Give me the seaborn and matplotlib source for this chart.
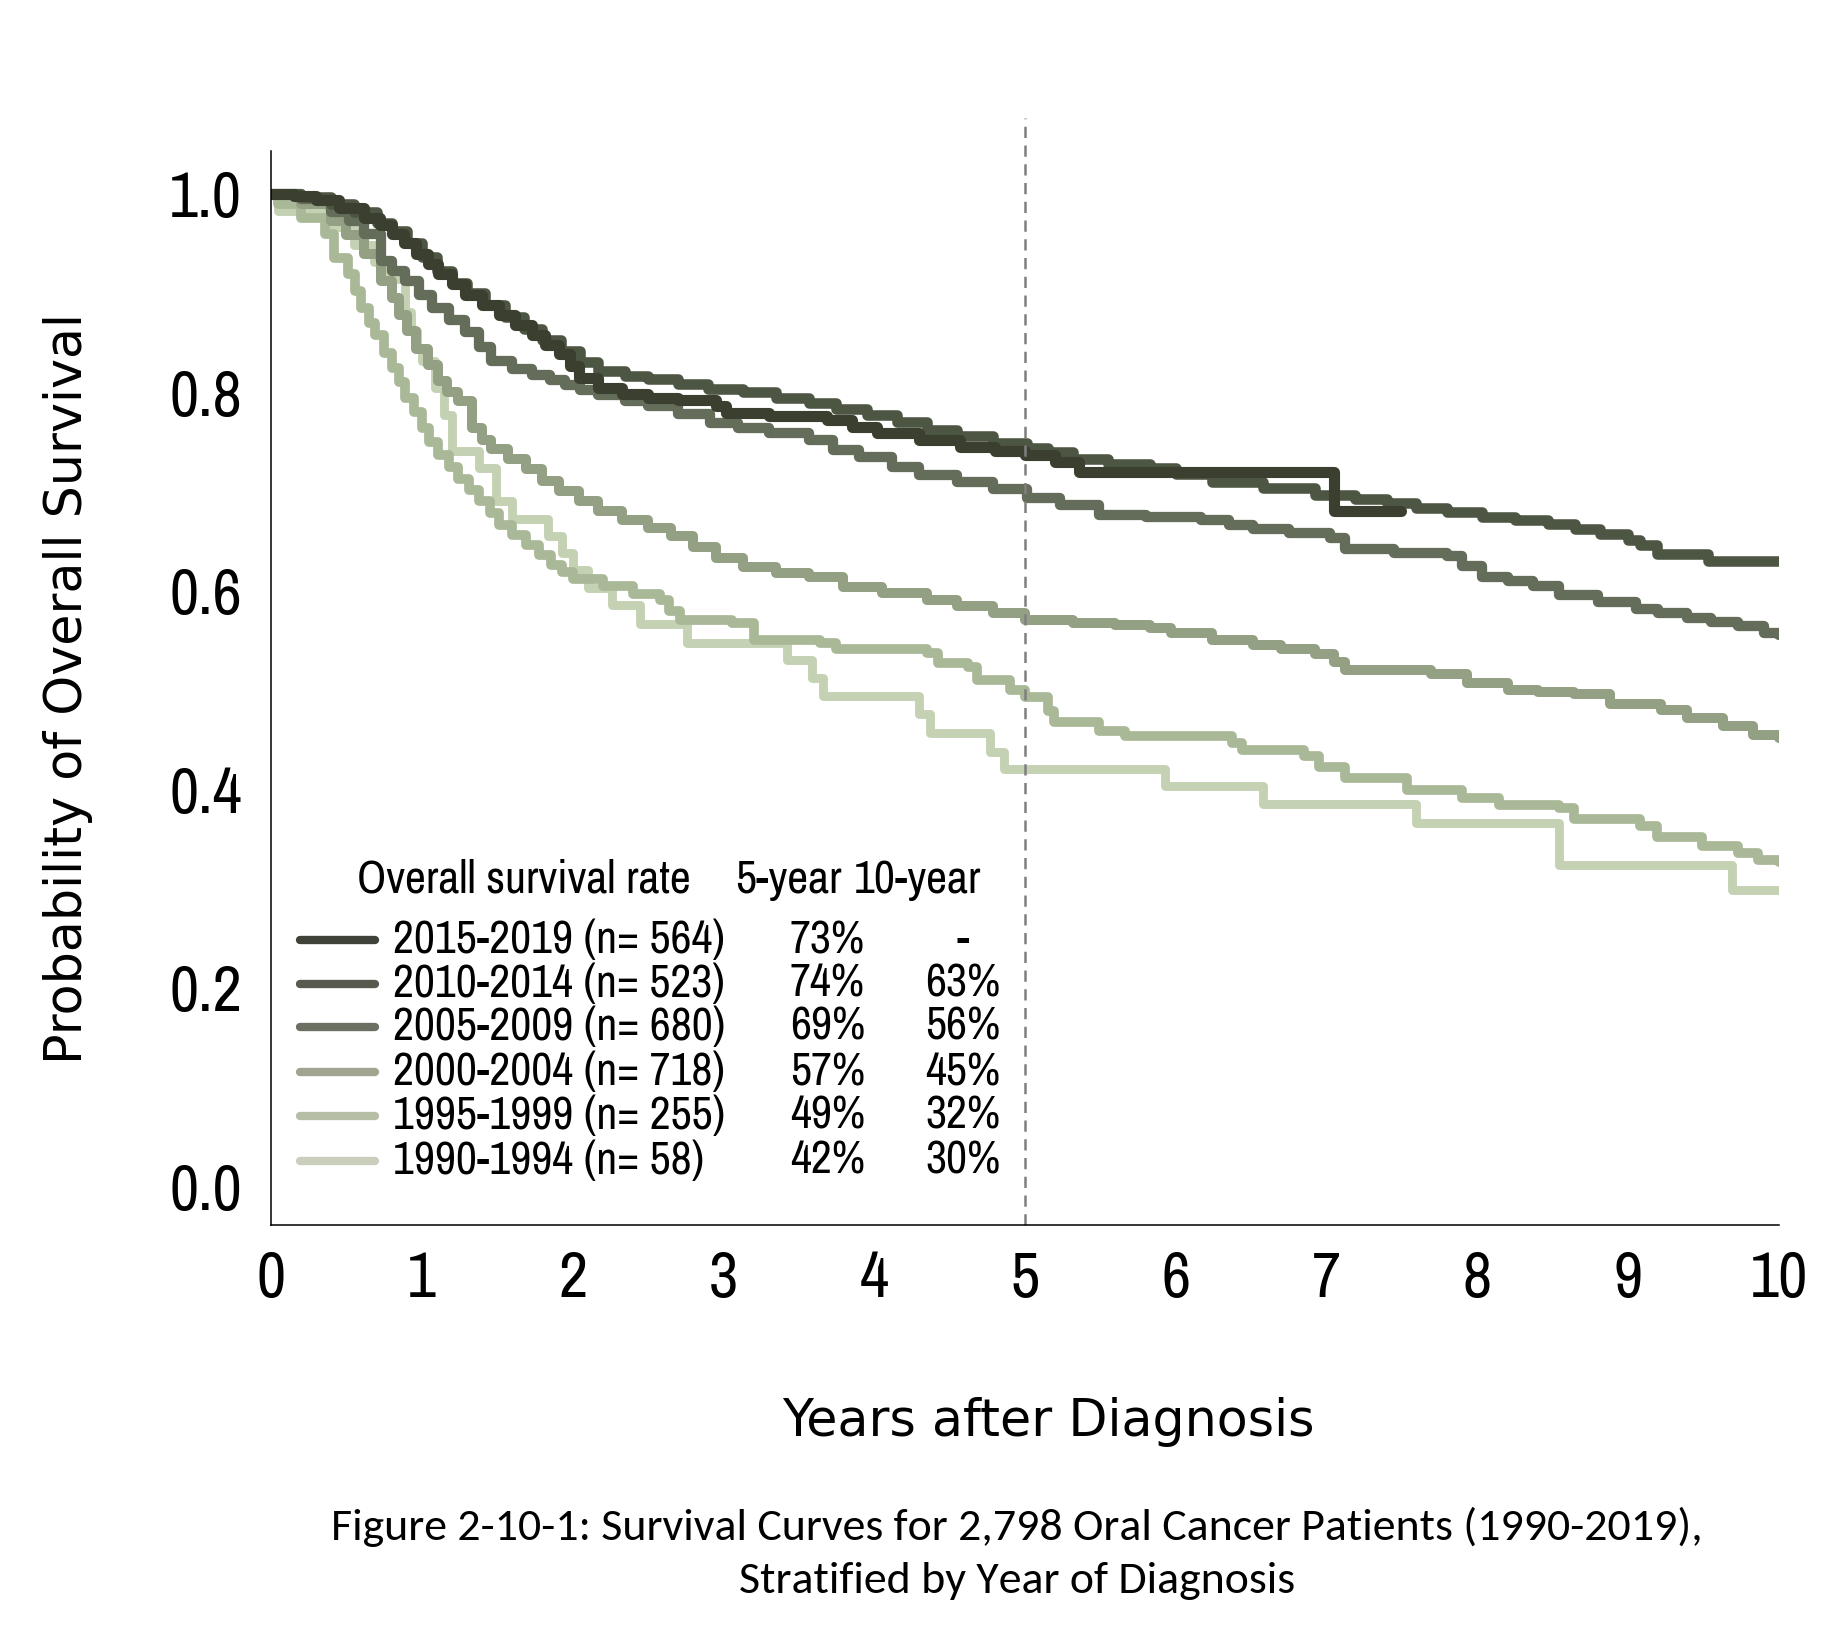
import numpy as np
import pandas as pd
import matplotlib
matplotlib.use("Agg")
import matplotlib.pyplot as plt
import seaborn as sns

# Survival step curves (time in years, survival from that time on)
t_2015 = [0, 0.15, 0.3, 0.45, 0.62, 0.72, 0.8, 0.88, 0.96, 1.04, 1.11, 1.2, 1.29, 1.4, 1.51, 1.62,
          1.73, 1.82, 1.91, 1.98, 2.04, 2.17, 2.33, 2.5, 2.7, 2.95, 3.02, 3.3, 3.69, 3.85, 4.02,
          4.3, 4.57, 4.8, 5.0, 5.2, 5.36, 7.05, 7.49]
s_2015 = [1.0, 0.998, 0.994, 0.986, 0.976, 0.968, 0.959, 0.95, 0.939, 0.929, 0.919, 0.909, 0.898,
          0.888, 0.878, 0.868, 0.858, 0.848, 0.838, 0.826, 0.814, 0.804, 0.798, 0.794, 0.792,
          0.786, 0.779, 0.776, 0.772, 0.765, 0.759, 0.752, 0.745, 0.741, 0.737, 0.73, 0.72,
          0.68, 0.68]

t_2010 = [0, 0.2, 0.4, 0.55, 0.7, 0.8, 0.9, 1.0, 1.1, 1.2, 1.3, 1.42, 1.55, 1.68, 1.8, 1.92, 2.05,
          2.17, 2.35, 2.5, 2.7, 2.9, 3.13, 3.35, 3.57, 3.75, 3.95, 4.15, 4.35, 4.55, 4.79, 5.01,
          5.15, 5.32, 5.55, 5.83, 6.0, 6.24, 6.58, 6.92, 7.19, 7.4, 7.59, 7.8, 8.03, 8.25, 8.47,
          8.65, 8.81, 9.0, 9.08, 9.19, 9.53, 10.0]
s_2010 = [1.0, 0.997, 0.99, 0.982, 0.97, 0.962, 0.95, 0.936, 0.922, 0.91, 0.9, 0.888, 0.876, 0.864,
          0.853, 0.842, 0.83, 0.821, 0.816, 0.813, 0.808, 0.803, 0.8, 0.794, 0.789, 0.783, 0.777,
          0.77, 0.762, 0.756, 0.749, 0.744, 0.74, 0.733, 0.728, 0.724, 0.718, 0.71, 0.703, 0.696,
          0.692, 0.688, 0.683, 0.679, 0.674, 0.671, 0.667, 0.662, 0.657, 0.651, 0.646, 0.637,
          0.63, 0.63]

t_2005 = [0, 0.2, 0.4, 0.52, 0.62, 0.73, 0.8, 0.89, 0.98, 1.07, 1.18, 1.29, 1.38, 1.46, 1.6, 1.73,
          1.85, 1.95, 2.05, 2.17, 2.35, 2.5, 2.7, 2.91, 3.1, 3.3, 3.57, 3.73, 3.9, 4.12, 4.3, 4.55,
          4.79, 5.01, 5.23, 5.49, 5.8, 6.17, 6.35, 6.51, 6.75, 7.02, 7.12, 7.45, 7.8, 7.9, 8.03,
          8.2, 8.37, 8.54, 8.8, 9.05, 9.2, 9.39, 9.55, 9.73, 9.9, 10.0]
s_2005 = [1.0, 0.995, 0.982, 0.972, 0.959, 0.932, 0.922, 0.912, 0.898, 0.885, 0.873, 0.861, 0.846,
          0.831, 0.823, 0.817, 0.812, 0.807, 0.802, 0.797, 0.791, 0.786, 0.778, 0.769, 0.764,
          0.759, 0.752, 0.742, 0.735, 0.725, 0.717, 0.71, 0.702, 0.693, 0.686, 0.676, 0.674,
          0.671, 0.666, 0.662, 0.658, 0.653, 0.642, 0.638, 0.635, 0.625, 0.614, 0.61, 0.605,
          0.596, 0.589, 0.582, 0.578, 0.573, 0.569, 0.564, 0.557, 0.555]

t_2000 = [0, 0.2, 0.4, 0.5, 0.62, 0.73, 0.8, 0.85, 0.9, 0.96, 1.04, 1.11, 1.17, 1.24, 1.33, 1.4,
          1.46, 1.57, 1.69, 1.8, 1.91, 2.04, 2.17, 2.33, 2.5, 2.65, 2.8, 2.95, 3.13, 3.35, 3.57,
          3.79, 4.05, 4.35, 4.55, 4.79, 5.0, 5.32, 5.6, 5.83, 5.97, 6.24, 6.51, 6.7, 6.92, 7.05,
          7.12, 7.69, 7.93, 8.2, 8.4, 8.64, 8.88, 9.22, 9.39, 9.63, 9.83, 10.0]
s_2000 = [1.0, 0.99, 0.972, 0.958, 0.939, 0.912, 0.895, 0.878, 0.862, 0.844, 0.827, 0.811, 0.8,
          0.791, 0.764, 0.752, 0.743, 0.733, 0.723, 0.711, 0.7, 0.69, 0.68, 0.671, 0.663, 0.655,
          0.644, 0.633, 0.624, 0.618, 0.614, 0.604, 0.598, 0.591, 0.585, 0.578, 0.571, 0.568,
          0.565, 0.562, 0.557, 0.55, 0.545, 0.541, 0.536, 0.528, 0.52, 0.516, 0.507, 0.5, 0.498,
          0.496, 0.486, 0.48, 0.472, 0.464, 0.455, 0.452]

t_1995 = [0, 0.05, 0.2, 0.36, 0.42, 0.51, 0.56, 0.6, 0.65, 0.69, 0.75, 0.8, 0.85, 0.89, 0.95, 1.0,
          1.05, 1.11, 1.18, 1.24, 1.31, 1.38, 1.45, 1.51, 1.6, 1.69, 1.78, 1.86, 1.93, 2.0, 2.2,
          2.4, 2.58, 2.64, 2.71, 3.06, 3.2, 3.64, 3.75, 4.35, 4.42, 4.62, 4.68, 4.9, 5.0, 5.15,
          5.19, 5.49, 5.66, 6.37, 6.44, 6.85, 6.95, 7.12, 7.53, 7.9, 8.14, 8.54, 8.64, 9.08,
          9.19, 9.49, 9.73, 9.86, 10.0]
s_1995 = [1.0, 0.99, 0.976, 0.959, 0.935, 0.919, 0.902, 0.885, 0.87, 0.858, 0.84, 0.824, 0.81,
          0.794, 0.78, 0.764, 0.75, 0.737, 0.725, 0.713, 0.701, 0.69, 0.678, 0.666, 0.656, 0.646,
          0.636, 0.626, 0.619, 0.612, 0.605, 0.597, 0.591, 0.58, 0.571, 0.567, 0.55, 0.547,
          0.541, 0.537, 0.527, 0.523, 0.51, 0.5, 0.493, 0.479, 0.468, 0.459, 0.454, 0.447, 0.44,
          0.434, 0.422, 0.411, 0.399, 0.391, 0.384, 0.381, 0.37, 0.363, 0.352, 0.343, 0.336,
          0.329, 0.327]

t_1990 = [0, 0.05, 0.4, 0.55, 0.68, 0.78, 0.89, 0.93, 0.97, 1.0, 1.09, 1.15, 1.2, 1.38, 1.49, 1.6,
          1.84, 1.93, 2.0, 2.1, 2.26, 2.45, 2.76, 3.42, 3.59, 3.66, 4.3, 4.37, 4.77, 4.86, 5.93,
          6.58, 7.59, 8.54, 9.69, 10.0]
s_1990 = [1.0, 0.983, 0.966, 0.948, 0.931, 0.914, 0.881, 0.862, 0.845, 0.831, 0.804, 0.777, 0.741,
          0.724, 0.69, 0.672, 0.655, 0.638, 0.621, 0.603, 0.586, 0.566, 0.547, 0.53, 0.512,
          0.494, 0.476, 0.457, 0.438, 0.42, 0.403, 0.385, 0.366, 0.324, 0.299, 0.299]

groups = ["2015-2019 (n= 564)", "2010-2014 (n= 523)", "2005-2009 (n= 680)",
          "2000-2004 (n= 718)", "1995-1999 (n= 255)", "1990-1994 (n= 58)"]
times = [t_2015, t_2010, t_2005, t_2000, t_1995, t_1990]
surv = [s_2015, s_2010, s_2005, s_2000, s_1995, s_1990]
rate5 = ["73%", "74%", "69%", "57%", "49%", "42%"]
rate10 = ["-", "63%", "56%", "45%", "32%", "30%"]

line_colors = ["#3a3f30", "#4d5543", "#646d5a", "#93a084", "#a9b897", "#c4d1b3"]
swatch_colors = ["#3f4239", "#565a4f", "#6c7063", "#a0a592", "#b6bea5", "#c9cfbc"]
line_widths = [8, 7.6, 7.4, 7.2, 7.0, 6.4]

sns.set_style("white")
narrow = ['Archivo Narrow', 'DejaVu Sans']
plt.rcParams['font.family'] = narrow
plt.rcParams['text.color'] = 'black'
plt.rcParams['xtick.color'] = 'black'
plt.rcParams['ytick.color'] = 'black'

fig = plt.figure(figsize=(18.47, 16.36), dpi=100)
ax = fig.add_axes([0.1467, 0.2512, 0.8165, 0.6565])

# lightest first so the dark curves sit on top
for i in reversed(range(len(groups))):
    df = pd.DataFrame({"t": times[i], "s": surv[i]})
    sns.lineplot(data=df, x="t", y="s", ax=ax, color=line_colors[i], lw=line_widths[i],
                 drawstyle="steps-post", estimator=None, legend=False)

ax.set_xlim(0, 10)
ax.set_ylim(-0.039, 1.043)
ax.set_xticks(range(11))
ax.set_yticks([0, 0.2, 0.4, 0.6, 0.8, 1.0])
ax.set_yticklabels(["0.0", "0.2", "0.4", "0.6", "0.8", "1.0"])
ax.set_xlabel("")
ax.set_ylabel("")
ax.spines[['top', 'right']].set_visible(False)
for sp in ['left', 'bottom']:
    ax.spines[sp].set_linewidth(1.1)
    ax.spines[sp].set_color('black')
ax.tick_params(axis='both', direction='out', length=11, width=1.1, labelsize=46,
               color='black', labelcolor='black')
ax.tick_params(axis='x', pad=7)
ax.tick_params(axis='y', pad=10)

# 5-year reference line
ax.axvline(5, ymin=0, ymax=1.031, color='#7f7f7f', lw=1.8, dashes=(4.5, 3), clip_on=False)

# legend table
fs = 33
ax.text(0.57, 0.309, "Overall survival rate", fontsize=fs, va='center', ha='left')
ax.text(3.43, 0.309, "5-year", fontsize=fs, va='center', ha='center')
ax.text(4.29, 0.309, "10-year", fontsize=fs, va='center', ha='center')
row_y = [0.248, 0.204, 0.161, 0.115, 0.071, 0.026]
for i, g in enumerate(groups):
    ax.plot([0.19, 0.69], [row_y[i], row_y[i]], color=swatch_colors[i], lw=6)
    ax.text(0.81, row_y[i], g, fontsize=fs, va='center', ha='left')
    ax.text(3.69, row_y[i], rate5[i], fontsize=fs, va='center', ha='center')
    ax.text(4.59, row_y[i], rate10[i], fontsize=fs, va='center', ha='center')

fig.text(68 / 1847, 1 - 689 / 1636, "Probability of Overall Survival", rotation=90,
         ha='center', va='center', fontsize=36.5, family='DejaVu Sans')
fig.text(1048 / 1847, 1 - 1422 / 1636, "Years after Diagnosis",
         ha='center', va='center', fontsize=36.5, family='DejaVu Sans')
fig.text(1017 / 1847, 1 - 1527 / 1636,
         "Figure 2-10-1: Survival Curves for 2,798 Oral Cancer Patients (1990-2019),",
         ha='center', va='center', fontsize=33, family='Carlito')
fig.text(1017 / 1847, 1 - 1581 / 1636, "Stratified by Year of Diagnosis",
         ha='center', va='center', fontsize=33, family='Carlito')

fig.savefig("out.png", dpi=100, facecolor='white')
